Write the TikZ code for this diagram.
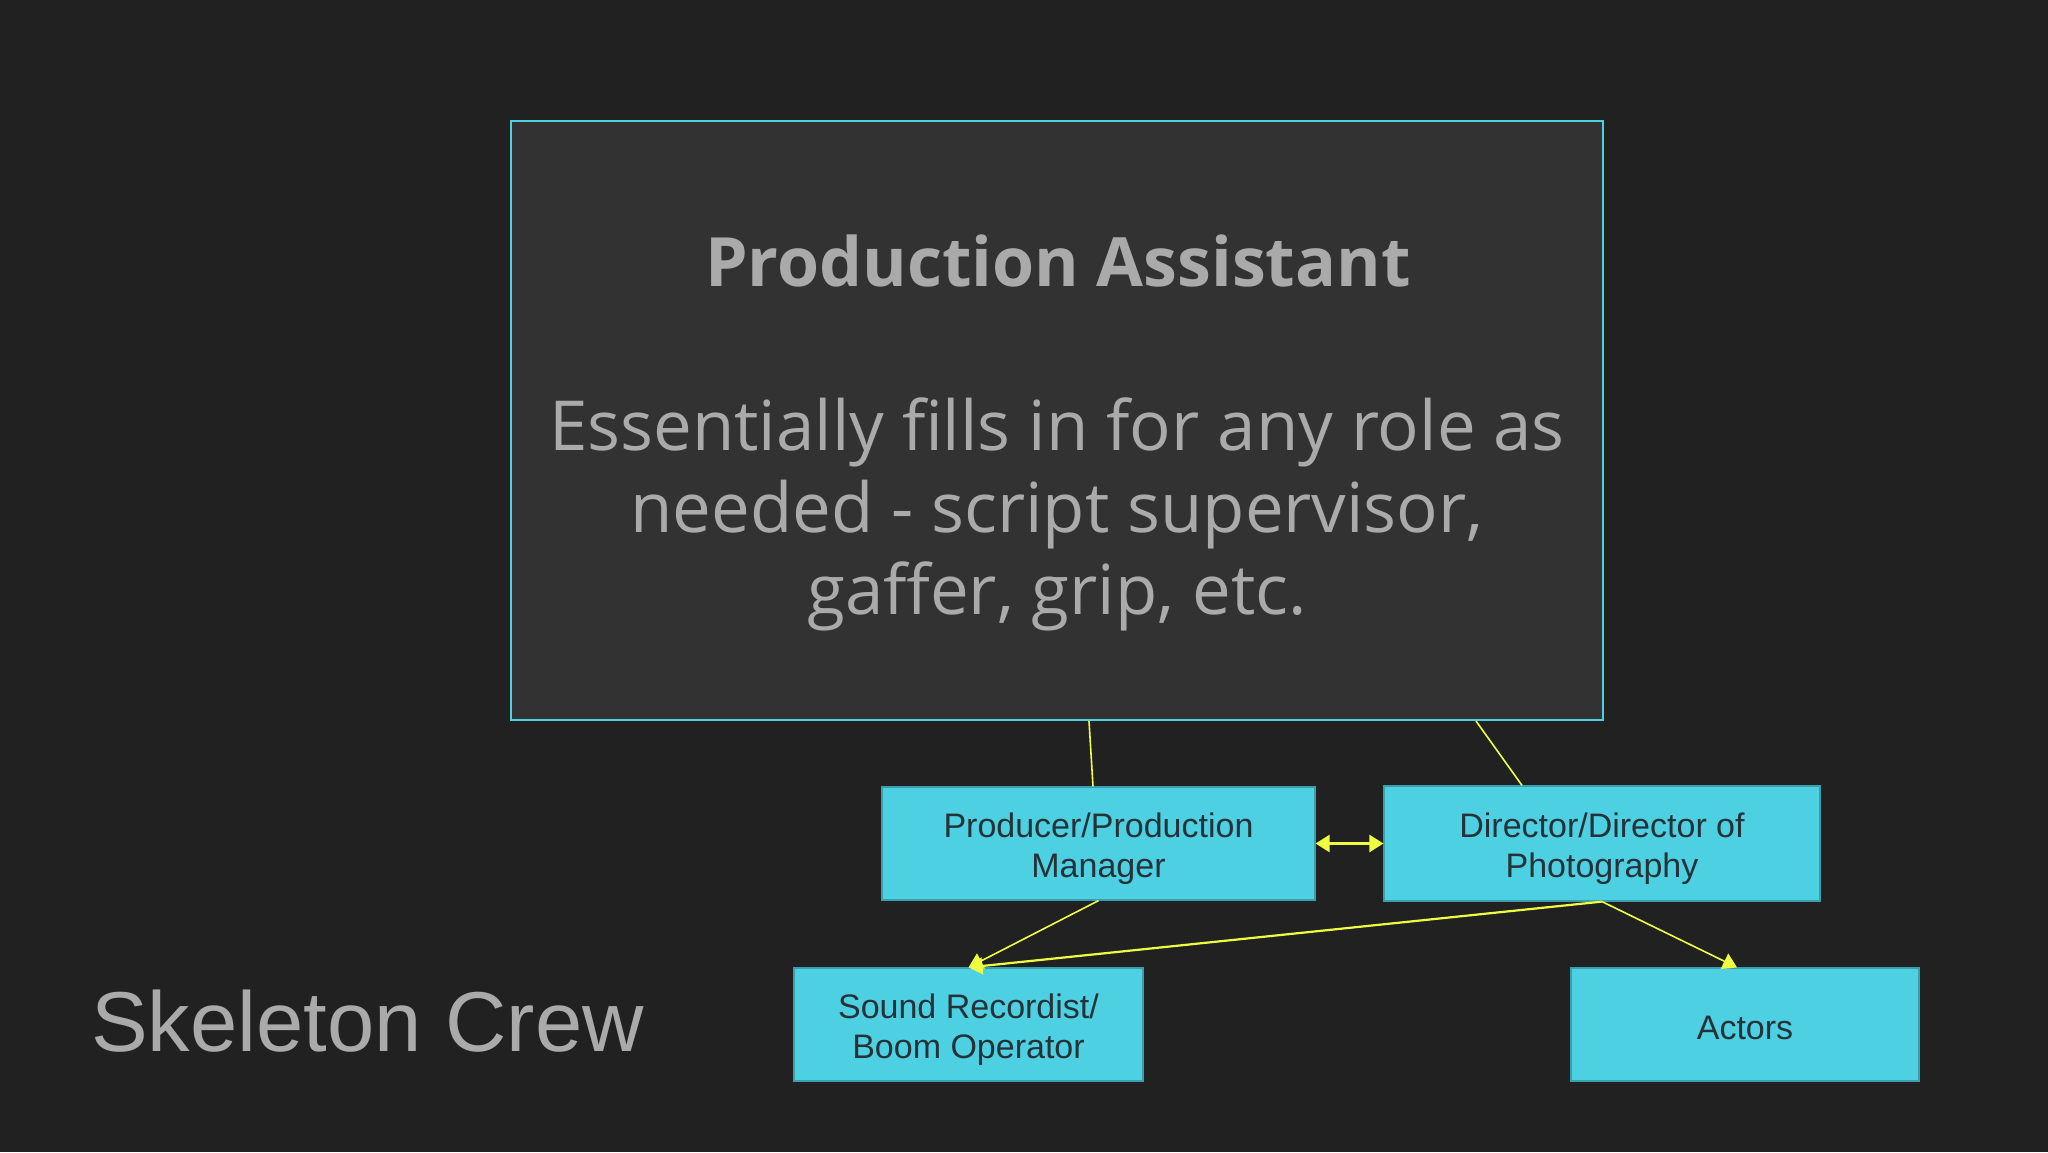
\documentclass[tikz,border=0pt]{standalone}
\usepackage{fontspec}
\setmainfont{Liberation Sans}
\newfontfamily\osans{Open Sans}
\usetikzlibrary{arrows.meta,calc}
\definecolor{bgc}{HTML}{212121}
\definecolor{bigfill}{HTML}{323232}
\definecolor{cyanc}{HTML}{4DD0E1}
\definecolor{cyanedge}{HTML}{3A9FAD}
\definecolor{darktext}{HTML}{263238}
\definecolor{greytext}{HTML}{AAAAAA}
\definecolor{yel}{HTML}{EEFF41}
\newcommand{\lowerstrut}{\rule{0pt}{36pt}}
\tikzset{
  bigbox/.style={draw=cyanc, line width=2pt, fill=bigfill, minimum width=1092pt, minimum height=599pt, inner sep=0pt},
  rolebox/.style={draw=cyanedge, line width=1.2pt, fill=cyanc, inner sep=0pt, align=center, text=darktext, font=\fontsize{34}{40}\selectfont},
  titletext/.style={text=greytext, font=\osans\bfseries\fontsize{68}{76}\selectfont, inner sep=0pt, anchor=base},
  bodytext/.style={text=greytext, font=\osans\fontsize{69}{82}\selectfont, inner sep=0pt, anchor=base},
  link/.style={draw=yel, line width=1.6pt},
  tip/.style={-{Triangle[length=14pt,width=17pt]}, draw=yel, fill=yel},
}
\begin{document}
\begin{tikzpicture}[x=1pt,y=-1pt]
\fill[bgc] (0,0) rectangle (2048,1152);
\useasboundingbox (0,0) rectangle (2048,1152);

\node[bigbox] (pa) at (1057,420.5) {};
\node[titletext] (pat) at (1058,286) {Production Assistant};
\node[bodytext] (pab1) at (1057,450) {Essentially fills in for any role as};
\node[bodytext] (pab2) at (1057,532) {needed - script supervisor,};
\node[bodytext] (pab3) at (1057,614) {gaffer, grip, etc.};

\node[rolebox, minimum width=433pt, minimum height=113pt] (pm) at (1098.5,843.5) {\lowerstrut Producer/Production\\Manager};
\node[rolebox, minimum width=436pt, minimum height=115pt] (dp) at (1602,843.5) {\lowerstrut Director/Director of\\Photography};
\node[rolebox, minimum width=349pt, minimum height=113pt] (sr) at (968.5,1024.5) {\lowerstrut Sound Recordist/\\Boom Operator};
\node[rolebox, minimum width=348pt, minimum height=113pt] (ac) at (1745,1024.5) {\rule{0pt}{30pt}Actors};

\node[text=greytext, font=\fontsize{85}{90}\selectfont, inner sep=0pt, anchor=base west] (sc) at (91,1051) {Skeleton Crew};

\draw[link] ([xshift=32pt]pa.south) -- ([xshift=-5.5pt]pm.north);
\draw[link] ([xshift=419pt]pa.south) -- ([xshift=-80pt]dp.north);
\draw[link, line width=2.6pt, {Triangle[length=14pt,width=17pt]}-{Triangle[length=14pt,width=17pt]}, fill=yel] (pm.east) -- (dp.west);
\draw[link, tip] (pm.south) -- (sr.north);
\draw[link, tip, line width=2.2pt] (dp.south) -- (sr.north);
\draw[link, tip] (dp.south) -- ([xshift=-8pt]ac.north);
\end{tikzpicture}
\end{document}
